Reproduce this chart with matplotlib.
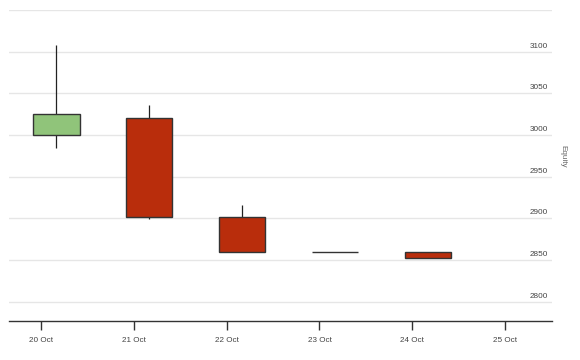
import matplotlib
matplotlib.use("Agg")
from matplotlib import pyplot as plt
import matplotlib.dates as mdates
import pandas as pd

# daily candles (timestamped a few hours after midnight, as in the source)
times = ["2013-10-20 04:00", "2013-10-21 04:00", "2013-10-22 04:00",
         "2013-10-23 04:00", "2013-10-24 04:00"]
opens = [3000, 3021, 2902, 2860, 2860]
highs = [3108, 3036, 2916, 2860, 2860]
lows = [2985, 2899, 2860, 2860, 2852]
closes = [3025, 2902, 2860, 2860, 2852]

tick_days = ["2013-10-20", "2013-10-21", "2013-10-22",
             "2013-10-23", "2013-10-24", "2013-10-25"]
y_grid = [2800, 2850, 2900, 2950, 3000, 3050, 3100, 3150]
y_labels = [2800, 2850, 2900, 2950, 3000, 3050, 3100]

up_color = "#90c47a"
down_color = "#b92d0c"

plt.rcParams['font.family'] = ['Liberation Sans', 'DejaVu Sans']

fig = plt.figure(figsize=(5.8, 3.6), dpi=100)
ax = fig.add_axes([9 / 580, 1 - 321 / 360, 543 / 580, 311 / 360])

t = mdates.date2num(pd.to_datetime(times))
ticks = mdates.date2num(pd.to_datetime(tick_days))

# wicks
ax.vlines(t, lows, highs, color="#222222", linewidth=0.9, zorder=2)

# bodies
bottoms = [min(o, c) for o, c in zip(opens, closes)]
heights = [abs(c - o) for o, c in zip(opens, closes)]
colors = [up_color if c > o else down_color for o, c in zip(opens, closes)]
ax.bar(t, heights, width=0.5, bottom=bottoms, color=colors,
       edgecolor="#333333", linewidth=1, zorder=3)

ax.set_xlim(ticks[0] - 0.344, ticks[-1] + 0.505)
ax.set_ylim(2777, 3150)

ax.set_xticks(ticks)
ax.set_xticklabels([pd.Timestamp(d).strftime("%d %b") for d in tick_days],
                   fontsize=5.9, color="#444444")
ax.tick_params(axis="x", length=6.5, width=1, color="#333333", pad=5)

ax.set_yticks(y_grid)
ax.set_yticklabels([])
ax.tick_params(axis="y", length=0)
ax.grid(axis="y", color="#e6e6e6", linewidth=1, zorder=0)
ax.set_axisbelow(True)

for v in y_labels:
    ax.annotate(str(v), xy=(1, v), xycoords=("axes fraction", "data"),
                xytext=(-3, 1.5), textcoords="offset points",
                ha="right", va="bottom", fontsize=5.9, color="#444444")

fig.text(563 / 580, 1 - 156 / 360, "Equity", rotation=-90, ha="center",
         va="center", fontsize=5.9, color="#666666")

for s in ["top", "left", "right"]:
    ax.spines[s].set_visible(False)
ax.spines["bottom"].set_color("#333333")
ax.spines["bottom"].set_linewidth(1)

fig.savefig("out.png", dpi=100)
